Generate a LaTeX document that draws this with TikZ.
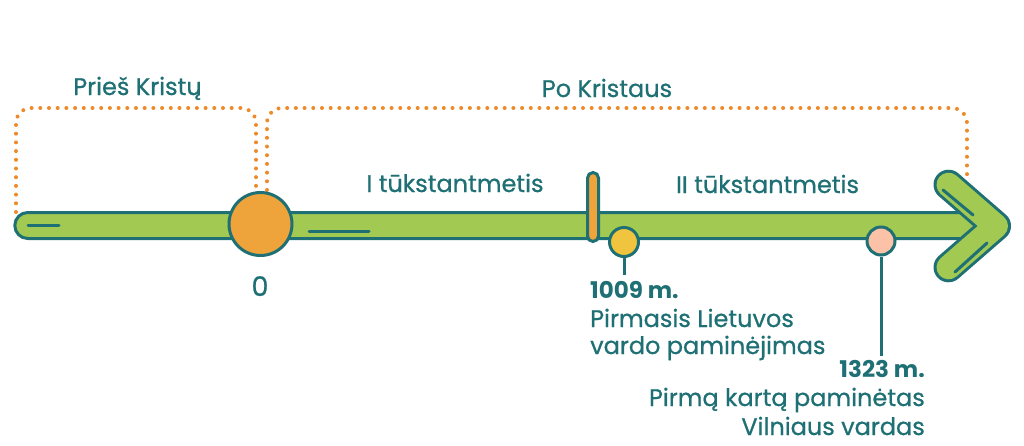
\documentclass[tikz,border=0pt]{standalone}
\usepackage{fontspec}
\setmainfont{Poppins}
\newfontfamily\medfont[FakeBold=0.7]{Poppins}
\definecolor{tealc}{HTML}{1E7074}
\definecolor{greenc}{HTML}{A2C951}
\definecolor{orangec}{HTML}{EEA43B}
\definecolor{yellowc}{HTML}{F1C43F}
\definecolor{pinkc}{HTML}{FBC2A8}
\definecolor{dotc}{HTML}{EF8A2B}
\tikzset{
  dotline/.style={draw=dotc, line width=4pt, line cap=round, dash pattern=on 0pt off 8.7pt, rounded corners=15pt},
  outl/.style={draw=tealc, line width=3pt},
  tline/.style={draw=tealc, line width=3pt, line cap=round},
  lbl/.style={text=tealc, font=\medfont\fontsize{24}{28}\selectfont, inner sep=0pt},
  yr/.style={text=tealc, font=\fontsize{23}{28}\selectfont\bfseries, inner sep=0pt},
  dotnode/.style={circle, outl, inner sep=0pt},
}
\begin{document}
\begin{tikzpicture}[x=1pt,y=-1pt]
\useasboundingbox (0,0) rectangle (1024,445);
% dotted brackets
\draw[dotline] (16,212) -- (16,108) -- (256,108) -- (256,190);
\draw[dotline] (267,190) -- (267,108) -- (967,108) -- (967,178);
% bar
\draw[fill=greenc, outl, rounded corners=13pt] (14.8,212.5) rectangle (985,238.5);
\draw[tline] (28,225) -- (59,225);
% chevron
\draw[tealc, line width=30pt, line cap=round, line join=round] (948.5,184.7) -- (996,226) -- (948.5,267.3);
\draw[greenc, line width=24pt, line cap=round, line join=round] (948.5,184.7) -- (996,226) -- (948.5,267.3);
\draw[tline] (943,190) -- (973,215);
\draw[tline] (955,272) -- (987,243);
% zero point
\node[dotnode, fill=orangec, minimum size=63pt] (zero) at (260.5,224) {};
\draw[tline] (309,231) -- (369,231);
% millennium tick
\draw[fill=orangec, outl, rounded corners=5.5pt] (587.5,172.5) rectangle (598.5,241.5);
% events
\coordinate (e1end) at (624,275);
\coordinate (e2end) at (881,356);
\node[dotnode, fill=yellowc, minimum size=29pt] (e1) at (624,242) {};
\node[dotnode, fill=pinkc, minimum size=28pt] (e2) at (881,241) {};
\draw[tline, line cap=butt] (e1.south) -- (e1end);
\draw[tline, line cap=butt] (e2.south) -- (e2end);
% labels
\node[lbl, anchor=base] (pk) at (137.5,95) {Prieš Kristų};
\node[lbl, anchor=base] (po) at (607,97) {Po Kristaus};
\node[lbl, anchor=base] (t1) at (455,192) {I tūkstantmetis};
\node[lbl, anchor=base] (t2) at (767.5,193) {II tūkstantmetis};
\node[lbl, anchor=base, font=\medfont\fontsize{27}{30}\selectfont] (z) at (260,296) {0};
\node[yr, anchor=base west] (y1) at (590,298) {1009 m.};
\node[lbl, anchor=base west] (d1a) at (590,327) {Pirmasis Lietuvos};
\node[lbl, anchor=base west] (d1b) at (590,354) {vardo paminėjimas};
\node[yr, anchor=base east] (y2) at (925,377) {1323 m.};
\node[lbl, anchor=base east] (d2a) at (925,406) {Pirmą kartą paminėtas};
\node[lbl, anchor=base east] (d2b) at (925,435) {Vilniaus vardas};
\end{tikzpicture}
\end{document}
